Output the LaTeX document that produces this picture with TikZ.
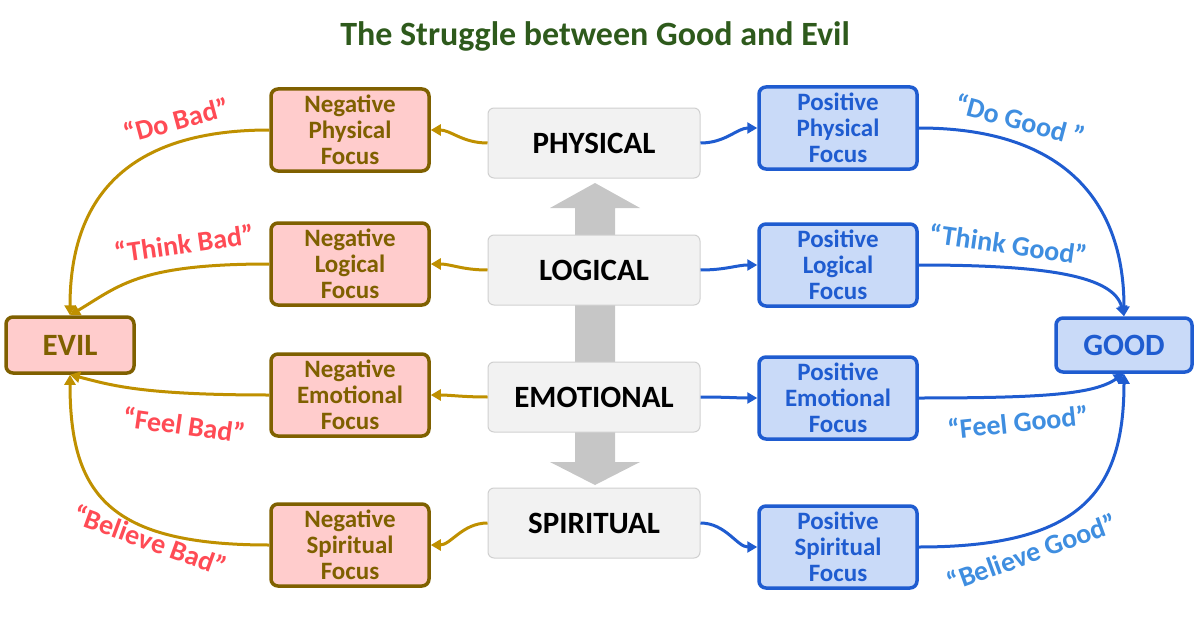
\documentclass[tikz,border=0pt]{standalone}
\usepackage{fontspec}
\setmainfont{Carlito}
\usetikzlibrary{arrows.meta,shapes.arrows}
\definecolor{negfill}{HTML}{FFCCCC}
\definecolor{negdraw}{HTML}{7F6000}
\definecolor{negarr}{HTML}{BF9000}
\definecolor{posfill}{HTML}{C9DAF8}
\definecolor{posdraw}{HTML}{1F5CD0}
\definecolor{cfill}{HTML}{F2F2F2}
\definecolor{cdraw}{HTML}{D0D0D0}
\definecolor{badc}{HTML}{FF4B55}
\definecolor{goodc}{HTML}{3F8EE0}
\definecolor{titlec}{HTML}{2E5A1C}
\tikzset{
 x=1pt,y=-1pt,
 cbox/.style={draw=cdraw,fill=cfill,rounded corners=6pt,minimum width=212pt,minimum height=70pt,font=\bfseries\fontsize{31}{34}\selectfont,line width=1pt},
 nbox/.style={draw=negdraw,fill=negfill,rounded corners=7pt,line width=3.5pt,minimum width=158pt,minimum height=82pt,align=center,text=negdraw,font=\bfseries\fontsize{25}{26}\selectfont,inner sep=2pt},
 pbox/.style={draw=posdraw,fill=posfill,rounded corners=7pt,line width=3.5pt,minimum width=158pt,minimum height=82pt,align=center,text=posdraw,font=\bfseries\fontsize{25}{26}\selectfont,inner sep=2pt},
 narr/.style={draw=negarr,line width=3pt,-{Triangle[length=10pt,width=11pt]}},
 parr/.style={draw=posdraw,line width=3pt,-{Triangle[length=10pt,width=11pt]}},
 blab/.style={text=badc,font=\bfseries\fontsize{28}{30}\selectfont,inner sep=0pt},
 glab/.style={text=goodc,font=\bfseries\fontsize{28}{30}\selectfont,inner sep=0pt},
}
\begin{document}
\begin{tikzpicture}
\useasboundingbox (0,0) rectangle (1200,634);
\node[text=titlec,font=\bfseries\fontsize{34}{36}\selectfont] (title) at (595,36) {The Struggle between Good and Evil};
% gray arrow
\fill[gray!45] (595,183) -- (640,208) -- (615,208) -- (615,462) -- (640,462) -- (595,485) -- (550,462) -- (575,462) -- (575,208) -- (550,208) -- cycle;
\node[cbox] (phy) at (594,143) {PHYSICAL};
\node[cbox] (log) at (594,270) {LOGICAL};
\node[cbox] (emo) at (594,397) {EMOTIONAL};
\node[cbox] (spi) at (594,523) {SPIRITUAL};
\node[nbox] (nphy) at (350,130) {Negative\\Physical\\Focus};
\node[nbox] (nlog) at (350,264) {Negative\\Logical\\Focus};
\node[nbox] (nemo) at (350,395) {Negative\\Emotional\\Focus};
\node[nbox] (nspi) at (350,545) {Negative\\Spiritual\\Focus};
\node[pbox] (pphy) at (838,128) {Positive\\Physical\\Focus};
\node[pbox] (plog) at (838,265) {Positive\\Logical\\Focus};
\node[pbox] (pemo) at (838,398) {Positive\\Emotional\\Focus};
\node[pbox] (pspi) at (838,547) {Positive\\Spiritual\\Focus};
\node[nbox,minimum width=128pt,minimum height=56pt,font=\bfseries\fontsize{31}{34}\selectfont] (evil) at (70,345) {EVIL};
\node[pbox,minimum width=136pt,minimum height=54pt,font=\bfseries\fontsize{31}{34}\selectfont] (good) at (1124,345) {GOOD};
% center to focus
\draw[narr] (phy.west) .. controls +(-25,0) and +(20,0) .. (nphy.east);
\draw[narr] (log.west) .. controls +(-25,0) and +(20,0) .. (nlog.east);
\draw[narr] (emo.west) .. controls +(-25,0) and +(20,0) .. (nemo.east);
\draw[narr] (spi.west) .. controls +(-25,0) and +(20,0) .. (nspi.east);
\draw[parr] (phy.east) .. controls +(25,0) and +(-20,0) .. (pphy.west);
\draw[parr] (log.east) .. controls +(25,0) and +(-20,0) .. (plog.west);
\draw[parr] (emo.east) .. controls +(25,0) and +(-20,0) .. (pemo.west);
\draw[parr] (spi.east) .. controls +(25,0) and +(-20,0) .. (pspi.west);
% to evil/good
\draw[narr] (nphy.west) .. controls +(-150,0) and +(0,-110) .. (evil.north);
\draw[narr] (nlog.west) .. controls +(-130,0) and +(50,-30) .. (evil.north);
\draw[narr] (nemo.west) .. controls +(-130,0) and +(40,10) .. (evil.south);
\draw[narr] (nspi.west) .. controls +(-160,0) and +(0,120) .. (evil.south);
\draw[parr] (pphy.east) .. controls +(150,0) and +(0,-110) .. (good.north);
\draw[parr] (plog.east) .. controls +(130,0) and +(-10,-40) .. (good.north);
\draw[parr] (pemo.east) .. controls +(130,0) and +(-30,20) .. (good.south);
\draw[parr] (pspi.east) .. controls +(160,0) and +(0,120) .. (good.south);
% labels
\node[blab,rotate=15] (l1) at (176,120) {“Do Bad”};
\node[blab,rotate=8] (l2) at (184,243) {“Think Bad”};
\node[blab,rotate=-8] (l3) at (184,425) {“Feel Bad”};
\node[blab,rotate=-20] (l4) at (150,540) {“Believe Bad”};
\node[glab,rotate=-15] (r1) at (1020,120) {“Do Good ”};
\node[glab,rotate=-8] (r2) at (1008,244) {“Think Good”};
\node[glab,rotate=6] (r3) at (1018,422) {“Feel Good”};
\node[glab,rotate=20] (r4) at (1032,552) {“Believe Good”};
\end{tikzpicture}
\end{document}
